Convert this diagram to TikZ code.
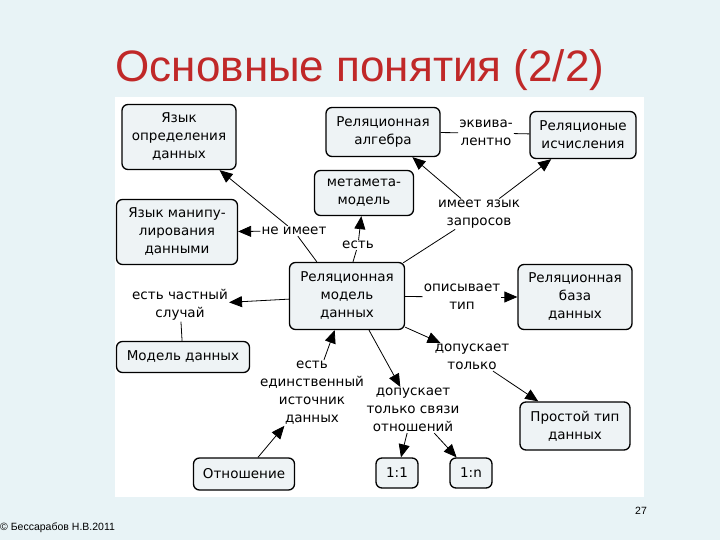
\documentclass[tikz,border=0pt]{standalone}
\usepackage{fontspec}
\setmainfont{DejaVu Sans}
\newfontfamily\arialf{Liberation Sans}
\usetikzlibrary{arrows.meta}
\definecolor{slidebg}{RGB}{232,243,246}
\definecolor{titlered}{RGB}{192,40,40}
\definecolor{boxfill}{RGB}{238,243,245}
\tikzset{
  concept/.style={draw=black, line width=1.3pt, rounded corners=6pt, fill=boxfill, align=center,
    font=\fontsize{13.5}{18}\selectfont, inner xsep=3pt, inner ysep=2pt},
  lbl/.style={align=center, font=\fontsize{13.5}{18}\selectfont, inner sep=1pt, fill=white},
  link/.style={line width=0.8pt},
  arr/.style={line width=0.8pt, -{Triangle[width=11pt,length=13pt]}}
}
\begin{document}
\begin{tikzpicture}[x=1pt,y=-1pt]
\useasboundingbox (0,0) rectangle (720,540);
\fill[slidebg] (0,0) rectangle (720,540);
\fill[white] (115,97) rectangle (644,497);
\node[font=\arialf\fontsize{44}{46}\selectfont, text=titlered] (title) at (360,70) {Основные понятия (2/2)};
\node[font=\arialf\fontsize{10.5}{12}\selectfont, anchor=west, inner sep=0pt] (footer) at (0,528) {© Бессарабов Н.В.2011};
\node[font=\arialf\fontsize{10.5}{12}\selectfont, inner sep=0pt] (pagenum) at (641,511) {27};

% concepts
\node[concept, minimum width=114pt, minimum height=65pt] (yod) at (179,137) {Язык\\определения\\данных};
\node[concept, minimum width=121pt, minimum height=65pt] (ymd) at (177,232) {Язык манипу-\\лирования\\данными};
\node[concept, minimum width=114pt, minimum height=49pt] (ra) at (383,132) {Реляционная\\алгебра};
\node[concept, minimum width=106pt, minimum height=47pt] (ri) at (583,135) {Реляционые\\исчисления};
\node[concept, minimum width=99pt, minimum height=45pt] (mm) at (364,193) {метамета-\\модель};
\node[concept, minimum width=115pt, minimum height=67pt] (rmd) at (347,296) {Реляционная\\модель\\данных};
\node[concept, minimum width=114pt, minimum height=65pt] (rbd) at (575,297) {Реляционная\\база\\данных};
\node[concept, minimum width=133pt, minimum height=31pt] (md) at (183,357) {Модель данных};
\node[concept, minimum width=110pt, minimum height=48pt] (pt) at (575,426) {Простой тип\\данных};
\node[concept, minimum width=101pt, minimum height=32pt] (otn) at (244,474) {Отношение};
\node[concept, minimum width=42pt, minimum height=30pt] (o11) at (397,473) {1:1};
\node[concept, minimum width=42pt, minimum height=30pt] (o1n) at (471,473) {1:n};

% labels
\node[lbl] (eq) at (486,133) {эквива-\\лентно};
\node[lbl] (zap) at (479,214) {имеет язык\\запросов};
\node[lbl] (neim) at (294,231) {не имеет};
\node[lbl] (est) at (358,245) {есть};
\node[lbl] (chast) at (180,305) {есть частный\\случай};
\node[lbl] (opis) at (462,297) {описывает\\тип};
\node[lbl] (dopt) at (472,357) {допускает\\только};
\node[lbl] (edin) at (312,393) {есть\\единственный\\источник\\данных};
\node[lbl] (dops) at (413,410) {допускает\\только связи\\отношений};

% connectors
\draw[link] (ra) -- (eq);
\draw[link] (eq) -- (ri);
\draw[link] (rmd.north west) ++(28,0) -- (neim);
\draw[arr] (neim) -- (yod);
\draw[arr] (neim) -- (ymd);
\draw[link] (rmd.north) ++(6,0) -- (est);
\draw[arr] (est) -- (mm);
\draw[link] (rmd.north east) ++(-2,1) -- (zap);
\draw[arr] (zap) -- (ra);
\draw[arr] (zap) -- (ri);
\draw[link] (rmd) -- (opis);
\draw[arr] (opis) -- (rbd);
\draw[arr] (rmd) -- (chast);
\draw[link] (chast) -- (md);
\draw[arr] (rmd.south east) ++(0,-3) -- (dopt);
\draw[arr] (dopt) -- (pt);
\draw[arr] (rmd.south) ++(22,0) -- (dops);
\draw[arr] (dops) -- (o11);
\draw[arr] (dops) -- (o1n);
\draw[arr] (otn) -- (edin);
\draw[arr] (edin) -- (rmd);
\end{tikzpicture}
\end{document}
